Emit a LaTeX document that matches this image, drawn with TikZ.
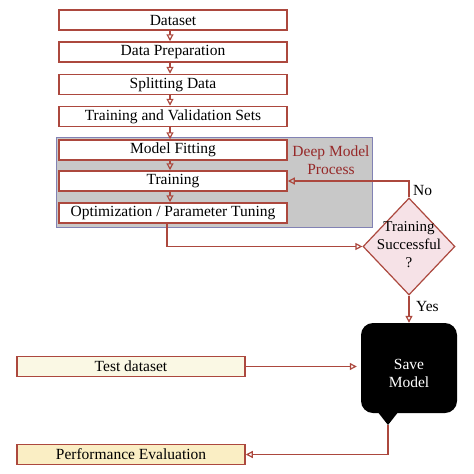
\documentclass[tikz,border=0pt]{standalone}
\usepackage{fontspec}
\setmainfont{Liberation Serif}
\usetikzlibrary{arrows.meta,shapes.geometric}
\definecolor{boxred}{RGB}{172,72,62}
\definecolor{deepred}{RGB}{150,40,40}
\definecolor{grayfill}{RGB}{200,200,200}
\definecolor{grayborder}{RGB}{130,130,180}
\definecolor{pinkfill}{RGB}{246,226,231}
\definecolor{testfill}{RGB}{250,248,228}
\definecolor{perffill}{RGB}{250,238,196}
\begin{document}
\begin{tikzpicture}[x=1pt,y=-1pt,
  font=\fontsize{15.5}{18}\selectfont,
  stepbox/.style={draw=boxred, line width=1.5pt, fill=white, minimum width=228pt, minimum height=20pt, inner sep=0pt},
  conn/.style={draw=boxred, line width=1.2pt, -{Triangle[open, length=7pt, width=7pt]}},
  lbl/.style={inner sep=0pt},
]
\useasboundingbox (0,0) rectangle (474,474);
\fill[white] (0,0) rectangle (474,474);
% deep model process group
\node[draw=grayborder, fill=grayfill, line width=1pt, minimum width=316pt, minimum height=90pt, inner sep=0pt] (deep) at (214,182) {};
\node[text=deepred, align=center, lbl] (dmp) at (331,160) {Deep Model\\Process};
% steps
\node[stepbox] (ds) at (173,20) {Dataset};
\node[stepbox] (prep) at (173,52) {Data Preparation};
\node[stepbox] (split) at (173,84.5) {Splitting Data};
\node[stepbox] (tvs) at (173,116.5) {Training and Validation Sets};
\node[stepbox] (fit) at (173,150) {Model Fitting};
\node[stepbox] (train) at (173,181) {Training};
\node[stepbox] (opt) at (173,213) {Optimization / Parameter Tuning};
% decision
\node[diamond, draw=boxred, fill=pinkfill, line width=1.2pt, minimum width=92pt, minimum height=97pt, inner sep=0pt] (dec) at (409,246.5) {};
\node[align=center, lbl, font=\fontsize{15}{18}\selectfont] (dectext) at (409,245) {Training\\Successful\\?};
% save model
\node[fill=black, rounded corners=12pt, minimum width=96pt, minimum height=90pt, inner sep=0pt] (save) at (409,368) {};
\coordinate (tip) at (388,425);
\fill[black] (377,411) -- (tip) -- (399,411) -- cycle;
\node[text=white, align=center, lbl] (savetext) at (409,373) {Save\\Model};
% test / performance
\node[stepbox, fill=testfill] (test) at (131,366.5) {Test dataset};
\node[stepbox, fill=perffill] (perf) at (131,454.5) {Performance Evaluation};
% connectors
\draw[conn] ([xshift=-3pt]ds.south) -- ([xshift=-3pt]prep.north);
\draw[conn] ([xshift=-3pt]prep.south) -- ([xshift=-3pt]split.north);
\draw[conn] ([xshift=-3pt]split.south) -- ([xshift=-3pt]tvs.north);
\draw[conn] ([xshift=-3pt]tvs.south) -- ([xshift=-3pt]fit.north);
\draw[conn] ([xshift=-3pt]fit.south) -- ([xshift=-3pt]train.north);
\draw[conn] ([xshift=-3pt]train.south) -- ([xshift=-3pt]opt.north);
\draw[conn] ([xshift=-6pt]opt.south) |- (dec.west);
\draw[conn] (dec.north) |- (train.east);
\draw[conn] (dec.south) -- (save.north);
\draw[conn] (test.east) -- ([xshift=-4pt]save.west |- test.east);
\draw[conn] (tip) |- (perf.east);
% labels
\node[lbl, anchor=west] (no) at (413,190) {No};
\node[lbl, anchor=west] (yes) at (416,306) {Yes};
\end{tikzpicture}
\end{document}
